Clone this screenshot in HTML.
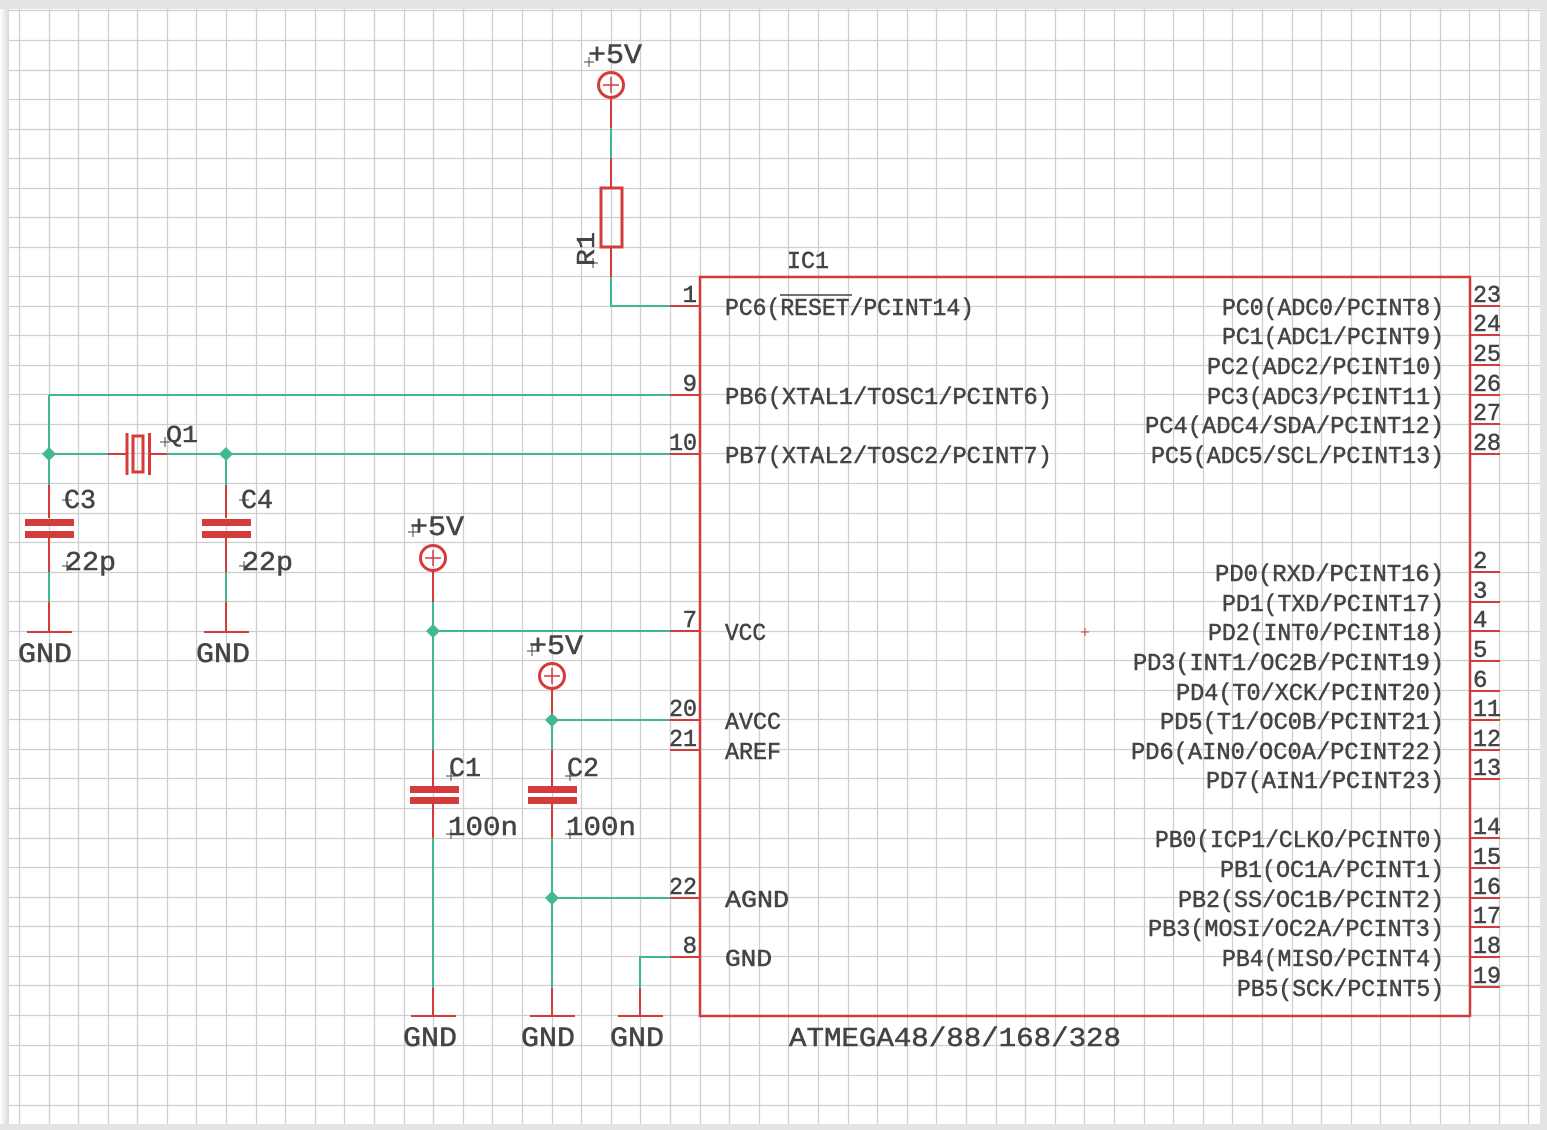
<!DOCTYPE html>
<html><head><meta charset="utf-8"><style>
html,body{margin:0;padding:0;background:#fff;}
body{width:1547px;height:1130px;overflow:hidden;}
svg{display:block}
text{font-family:"Liberation Mono","DejaVu Sans Mono",monospace;fill:#444;stroke:#444;stroke-width:0.5;}
</style></head><body>
<svg width="1547" height="1130" viewBox="0 0 1547 1130" xmlns="http://www.w3.org/2000/svg">
<defs>
<linearGradient id="sl" x1="0" x2="1"><stop offset="0" stop-color="#fff"/><stop offset="1" stop-color="#d8d8d8"/></linearGradient>
</defs>
<rect x="0" y="0" width="1547" height="1130" fill="#fff"/>
<rect x="0" y="0" width="9" height="1130" fill="url(#sl)"/>
<rect x="0" y="0" width="1547" height="9" fill="#e4e4e4"/>
<rect x="1540" y="0" width="7" height="1130" fill="#e4e4e4"/>
<rect x="0" y="1124" width="1547" height="6" fill="#e4e4e4"/>
<rect x="9" y="9" width="1531" height="1115" fill="#fff"/>
<g stroke="#cfcfcf" stroke-width="1.3" fill="none">
<path d="M19.5 9V1124M49.5 9V1124M78.5 9V1124M108.5 9V1124M137.5 9V1124M167.5 9V1124M196.5 9V1124M226.5 9V1124M256.5 9V1124M285.5 9V1124M315.5 9V1124M344.5 9V1124M374.5 9V1124M404.5 9V1124M433.5 9V1124M463.5 9V1124M492.5 9V1124M522.5 9V1124M552.5 9V1124M581.5 9V1124M611.5 9V1124M640.5 9V1124M670.5 9V1124M700.5 9V1124M729.5 9V1124M759.5 9V1124M788.5 9V1124M818.5 9V1124M848.5 9V1124M877.5 9V1124M907.5 9V1124M936.5 9V1124M966.5 9V1124M996.5 9V1124M1025.5 9V1124M1055.5 9V1124M1084.5 9V1124M1114.5 9V1124M1144.5 9V1124M1173.5 9V1124M1203.5 9V1124M1232.5 9V1124M1262.5 9V1124M1292.5 9V1124M1321.5 9V1124M1351.5 9V1124M1380.5 9V1124M1410.5 9V1124M1440.5 9V1124M1469.5 9V1124M1499.5 9V1124M1528.5 9V1124"/>
<path d="M9 10.5H1540M9 40.5H1540M9 70.5H1540M9 99.5H1540M9 129.5H1540M9 158.5H1540M9 188.5H1540M9 217.5H1540M9 247.5H1540M9 276.5H1540M9 306.5H1540M9 335.5H1540M9 365.5H1540M9 394.5H1540M9 424.5H1540M9 453.5H1540M9 483.5H1540M9 513.5H1540M9 542.5H1540M9 572.5H1540M9 601.5H1540M9 631.5H1540M9 660.5H1540M9 690.5H1540M9 719.5H1540M9 749.5H1540M9 778.5H1540M9 808.5H1540M9 838.5H1540M9 867.5H1540M9 897.5H1540M9 926.5H1540M9 956.5H1540M9 985.5H1540M9 1015.5H1540M9 1045.5H1540M9 1075.5H1540M9 1105.5H1540"/>
</g>

<g fill="none" stroke-width="2">
<g stroke="#d43c3c">
<circle cx="611" cy="85" r="12.5" stroke-width="3"/>
<path d="M603 85H619M611 77V93" stroke-width="1.5"/>
<path d="M611 98V128M611 158V188M611 247V277"/>
<rect x="601" y="188" width="21" height="59" stroke-width="3"/>
</g>
<path d="M611 128V158M611 277V306H670" stroke="#40b890"/>
<rect x="700" y="277" width="770" height="739" stroke="#d43c3c" stroke-width="2.5"/>
<g stroke="#d43c3c">
<path d="M670 306H700M670 395H700M670 454H700M670 631H700M670 720H700M670 750H700M670 898H700M670 957H700"/>
<path d="M1470 306H1500M1470 335H1500M1470 365H1500M1470 395H1500M1470 424H1500M1470 454H1500"/>
<path d="M1470 572H1500M1470 602H1500M1470 631H1500M1470 661H1500M1470 691H1500M1470 720H1500M1470 750H1500M1470 779H1500"/>
<path d="M1470 838H1500M1470 868H1500M1470 898H1500M1470 927H1500M1470 957H1500M1470 987H1500"/>
<path d="M1081 632H1089M1085 628V636" stroke-width="1"/>
</g>
<path d="M49 395H670M49 395V485M49 572V602M49 454H108M167 454H670M226 454V485M226 572V602" stroke="#40b890"/>
<g stroke="#d43c3c">
<path d="M108 454H126M150 454H167"/>
<path d="M127 433V475M149.5 433V475" stroke-width="3"/>
<rect x="133" y="436" width="10" height="36" stroke-width="3"/>
<path d="M49 485V518M49 538V572M49 602V632M226 485V518M226 538V572M226 602V632"/>
<path d="M27 632H72M204 632H249"/>
</g>
<g fill="#d43c3c" stroke="none">
<rect x="25" y="519" width="49" height="7"/><rect x="25" y="531" width="49" height="7"/>
<rect x="202" y="519" width="49" height="7"/><rect x="202" y="531" width="49" height="7"/>
<rect x="410" y="786" width="49" height="7"/><rect x="410" y="797" width="49" height="7"/>
<rect x="528" y="786" width="49" height="7"/><rect x="528" y="797" width="49" height="7"/>
</g>
<g stroke="#d43c3c">
<circle cx="433" cy="558" r="12.5" stroke-width="3"/>
<path d="M425 558H441M433 550V566" stroke-width="1.5"/>
<circle cx="552" cy="676" r="12.5" stroke-width="3"/>
<path d="M544 676H560M552 668V684" stroke-width="1.5"/>
<path d="M433 571V602M433 750V786M433 803V838M433 988V1016M552 689V720M552 750V786M552 803V838M552 988V1016M640 988V1016"/>
<path d="M411 1016H456M530 1016H575M618 1016H663"/>
</g>
<path d="M433 602V750M433 838V988M433 631H670M552 720V750M552 720H670M552 838V988M552 898H670M640 988V957H670" stroke="#40b890"/>
</g>
<g fill="#40b890">
<path d="M49 447L56 454L49 461L42 454Z"/><path d="M226 447L233 454L226 461L219 454Z"/>
<path d="M433 624L440 631L433 638L426 631Z"/><path d="M552 713L559 720L552 727L545 720Z"/>
<path d="M552 891L559 898L552 905L545 898Z"/>
</g>
<g stroke="#444" stroke-width="1" fill="none">
<path d="M584 62H594M589 57V67M588 263H598M593 258V268M62 500H72M67 495V505M62 566H72M67 561V571M239 500H249M244 495V505M239 566H249M244 561V571M160 442H170M165 437V447M408 532H418M413 527V537M527 651H537M532 646V656M446 776H456M451 771V781M446 834H456M451 829V839M565 776H575M570 771V781M565 834H575M570 829V839"/>
</g>

<g font-size="24">
<text x="588" y="63" font-size="28" textLength="54" lengthAdjust="spacingAndGlyphs">+5V</text>
<text x="410" y="535" font-size="28" textLength="54" lengthAdjust="spacingAndGlyphs">+5V</text>
<text x="529" y="654" font-size="28" textLength="54" lengthAdjust="spacingAndGlyphs">+5V</text>
<text transform="translate(594,266) rotate(-90)" font-size="26" textLength="34" lengthAdjust="spacingAndGlyphs">R1</text>
<text x="787" y="268" textLength="42" lengthAdjust="spacingAndGlyphs">IC1</text>
<text x="789" y="1046" font-size="27" textLength="332" lengthAdjust="spacingAndGlyphs">ATMEGA48/88/168/328</text>
<text x="166" y="442" textLength="32" lengthAdjust="spacingAndGlyphs">Q1</text>
<text x="64" y="508" font-size="27" textLength="32" lengthAdjust="spacingAndGlyphs">C3</text>
<text x="241" y="508" font-size="27" textLength="32" lengthAdjust="spacingAndGlyphs">C4</text>
<text x="65" y="570" font-size="27" textLength="51" lengthAdjust="spacingAndGlyphs">22p</text>
<text x="242" y="570" font-size="27" textLength="51" lengthAdjust="spacingAndGlyphs">22p</text>
<text x="449" y="776" font-size="27" textLength="32" lengthAdjust="spacingAndGlyphs">C1</text>
<text x="567" y="776" font-size="27" textLength="32" lengthAdjust="spacingAndGlyphs">C2</text>
<text x="448" y="835" font-size="27" textLength="70" lengthAdjust="spacingAndGlyphs">100n</text>
<text x="566" y="835" font-size="27" textLength="70" lengthAdjust="spacingAndGlyphs">100n</text>
<g font-size="28">
<text x="18" y="662" textLength="54" lengthAdjust="spacingAndGlyphs">GND</text>
<text x="196" y="662" textLength="54" lengthAdjust="spacingAndGlyphs">GND</text>
<text x="403" y="1046" textLength="54" lengthAdjust="spacingAndGlyphs">GND</text>
<text x="521" y="1046" textLength="54" lengthAdjust="spacingAndGlyphs">GND</text>
<text x="610" y="1046" textLength="54" lengthAdjust="spacingAndGlyphs">GND</text>
</g>
<g text-anchor="end">
<text x="697" y="302">1</text><text x="697" y="391">9</text>
<text x="697" y="450" textLength="28" lengthAdjust="spacingAndGlyphs">10</text>
<text x="697" y="627">7</text>
<text x="697" y="716" textLength="28" lengthAdjust="spacingAndGlyphs">20</text>
<text x="697" y="746" textLength="28" lengthAdjust="spacingAndGlyphs">21</text>
<text x="697" y="894" textLength="28" lengthAdjust="spacingAndGlyphs">22</text>
<text x="697" y="953">8</text>
</g>
<text x="725" y="315" textLength="249" lengthAdjust="spacingAndGlyphs">PC6(RESET/PCINT14)</text>
<line x1="780" y1="295" x2="852" y2="295" stroke="#444" stroke-width="1.5"/>
<text x="725" y="404" textLength="327" lengthAdjust="spacingAndGlyphs">PB6(XTAL1/TOSC1/PCINT6)</text>
<text x="725" y="463" textLength="327" lengthAdjust="spacingAndGlyphs">PB7(XTAL2/TOSC2/PCINT7)</text>
<text x="725" y="640" textLength="41" lengthAdjust="spacingAndGlyphs">VCC</text>
<text x="725" y="729" textLength="56" lengthAdjust="spacingAndGlyphs">AVCC</text>
<text x="725" y="759" textLength="56" lengthAdjust="spacingAndGlyphs">AREF</text>
<text x="725" y="907" textLength="64" lengthAdjust="spacingAndGlyphs">AGND</text>
<text x="725" y="966" textLength="47" lengthAdjust="spacingAndGlyphs">GND</text>
<g text-anchor="end">
<text x="1444" y="315" textLength="222" lengthAdjust="spacingAndGlyphs">PC0(ADC0/PCINT8)</text>
<text x="1444" y="344" textLength="222" lengthAdjust="spacingAndGlyphs">PC1(ADC1/PCINT9)</text>
<text x="1444" y="374" textLength="237" lengthAdjust="spacingAndGlyphs">PC2(ADC2/PCINT10)</text>
<text x="1444" y="404" textLength="237" lengthAdjust="spacingAndGlyphs">PC3(ADC3/PCINT11)</text>
<text x="1444" y="433" textLength="299" lengthAdjust="spacingAndGlyphs">PC4(ADC4/SDA/PCINT12)</text>
<text x="1444" y="463" textLength="293" lengthAdjust="spacingAndGlyphs">PC5(ADC5/SCL/PCINT13)</text>
<text x="1444" y="581" textLength="229" lengthAdjust="spacingAndGlyphs">PD0(RXD/PCINT16)</text>
<text x="1444" y="611" textLength="222" lengthAdjust="spacingAndGlyphs">PD1(TXD/PCINT17)</text>
<text x="1444" y="640" textLength="236" lengthAdjust="spacingAndGlyphs">PD2(INT0/PCINT18)</text>
<text x="1444" y="670" textLength="311" lengthAdjust="spacingAndGlyphs">PD3(INT1/OC2B/PCINT19)</text>
<text x="1444" y="700" textLength="268" lengthAdjust="spacingAndGlyphs">PD4(T0/XCK/PCINT20)</text>
<text x="1444" y="729" textLength="284" lengthAdjust="spacingAndGlyphs">PD5(T1/OC0B/PCINT21)</text>
<text x="1444" y="759" textLength="313" lengthAdjust="spacingAndGlyphs">PD6(AIN0/OC0A/PCINT22)</text>
<text x="1444" y="788" textLength="238" lengthAdjust="spacingAndGlyphs">PD7(AIN1/PCINT23)</text>
<text x="1444" y="847" textLength="289" lengthAdjust="spacingAndGlyphs">PB0(ICP1/CLKO/PCINT0)</text>
<text x="1444" y="877" textLength="224" lengthAdjust="spacingAndGlyphs">PB1(OC1A/PCINT1)</text>
<text x="1444" y="907" textLength="266" lengthAdjust="spacingAndGlyphs">PB2(SS/OC1B/PCINT2)</text>
<text x="1444" y="936" textLength="296" lengthAdjust="spacingAndGlyphs">PB3(MOSI/OC2A/PCINT3)</text>
<text x="1444" y="966" textLength="222" lengthAdjust="spacingAndGlyphs">PB4(MISO/PCINT4)</text>
<text x="1444" y="996" textLength="207" lengthAdjust="spacingAndGlyphs">PB5(SCK/PCINT5)</text>
</g>
<g>
<text x="1473" y="302" textLength="28" lengthAdjust="spacingAndGlyphs">23</text>
<text x="1473" y="331" textLength="28" lengthAdjust="spacingAndGlyphs">24</text>
<text x="1473" y="361" textLength="28" lengthAdjust="spacingAndGlyphs">25</text>
<text x="1473" y="391" textLength="28" lengthAdjust="spacingAndGlyphs">26</text>
<text x="1473" y="420" textLength="28" lengthAdjust="spacingAndGlyphs">27</text>
<text x="1473" y="450" textLength="28" lengthAdjust="spacingAndGlyphs">28</text>
<text x="1473" y="568">2</text><text x="1473" y="598">3</text><text x="1473" y="627">4</text>
<text x="1473" y="657">5</text><text x="1473" y="687">6</text>
<text x="1473" y="716" textLength="28" lengthAdjust="spacingAndGlyphs">11</text>
<text x="1473" y="746" textLength="28" lengthAdjust="spacingAndGlyphs">12</text>
<text x="1473" y="775" textLength="28" lengthAdjust="spacingAndGlyphs">13</text>
<text x="1473" y="834" textLength="28" lengthAdjust="spacingAndGlyphs">14</text>
<text x="1473" y="864" textLength="28" lengthAdjust="spacingAndGlyphs">15</text>
<text x="1473" y="894" textLength="28" lengthAdjust="spacingAndGlyphs">16</text>
<text x="1473" y="923" textLength="28" lengthAdjust="spacingAndGlyphs">17</text>
<text x="1473" y="953" textLength="28" lengthAdjust="spacingAndGlyphs">18</text>
<text x="1473" y="983" textLength="28" lengthAdjust="spacingAndGlyphs">19</text>
</g>
</g>
</svg>
</body></html>
